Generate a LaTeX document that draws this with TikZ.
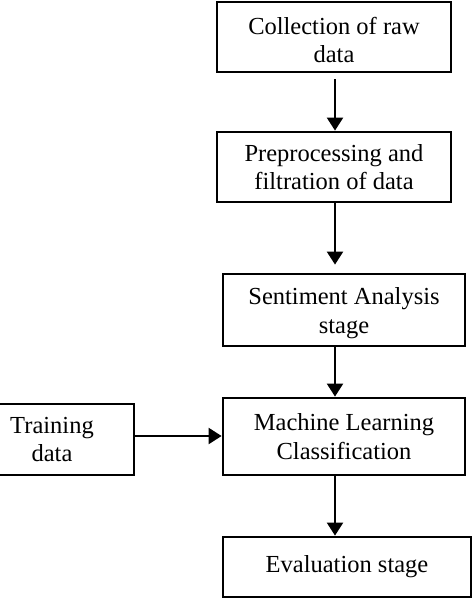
\documentclass[tikz,border=0pt]{standalone}
\usepackage{fontspec}
\setmainfont{Liberation Serif}
\usetikzlibrary{arrows.meta}
\newcommand{\mytopstrut}{\rule{0pt}{23pt}}
\tikzset{
  stagebox/.style={draw=black, line width=2.8pt, rectangle, align=center,
    font=\fontsize{24.5}{28.5}\selectfont, inner sep=0pt},
  arr/.style={line width=2.3pt, -{Triangle[width=16pt,length=13pt]}}
}
\begin{document}
\begin{tikzpicture}[x=1pt,y=-1pt]
\useasboundingbox (0,0) rectangle (474,599);
\node[stagebox, minimum width=234pt, minimum height=70pt] (b1) at (334,37) {\mytopstrut Collection of raw\\data};
\node[stagebox, minimum width=234pt, minimum height=70pt] (b2) at (334,167) {Preprocessing and\\filtration of data};
\node[stagebox, minimum width=242pt, minimum height=72pt] (b3) at (344,310) {\mytopstrut Sentiment Analysis\\stage};
\node[stagebox, minimum width=242pt, minimum height=77pt] (b4) at (344,436.5) {Machine Learning\\Classification};
\node[stagebox, minimum width=248pt, minimum height=60pt] (b5) at (347,567) {Evaluation stage};
\node[stagebox, minimum width=164pt, minimum height=71pt] (tr) at (52,439.5) {Training\\data};
\coordinate (ax) at (335,0);
\coordinate (ay) at (0,436);
\draw[arr] ([yshift=-6pt]b1.south -| ax) -- (b2.north -| ax);
\draw[arr] (b2.south -| ax) -- ([yshift=8pt]b3.north -| ax);
\draw[arr] (b3.south -| ax) -- (b4.north -| ax);
\draw[arr] (b4.south -| ax) -- (b5.north -| ax);
\draw[arr] (tr.east |- ay) -- (b4.west |- ay);
\end{tikzpicture}
\end{document}
